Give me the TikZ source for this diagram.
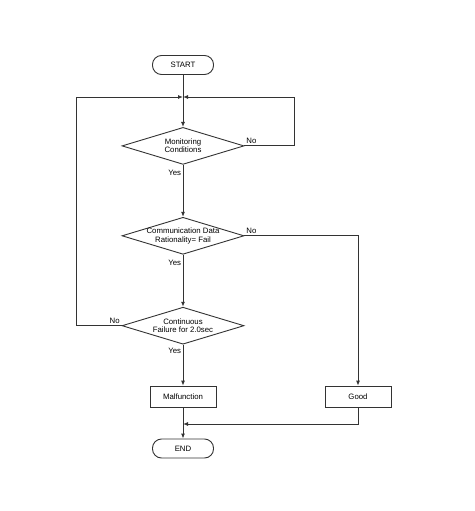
\documentclass[tikz,border=0pt]{standalone}
\usepackage{fontspec}
\setmainfont{Liberation Sans}
\usetikzlibrary{arrows.meta,positioning,shapes.geometric}

\begin{document}
\begin{tikzpicture}[
  x=1pt, y=1pt,
  font=\fontsize{7.8}{8.6}\selectfont,
  line width=0.9pt,
  draw=black!80,
  term/.style={draw, rounded corners=9pt, minimum width=61pt, minimum height=19pt, inner sep=0pt},
  proc/.style={draw, minimum width=66pt, minimum height=21pt, inner sep=0pt},
  cond/.style={draw, diamond, align=center, shape aspect=3.4, minimum width=122pt, minimum height=37pt, inner sep=-2pt},
  lbl/.style={inner sep=1.5pt},
  arrow/.style={-{Latex[length=5pt,width=4pt]}}
]
\useasboundingbox (0,0) rectangle (474,-511);

\node[term] (start) at (183,-65) {START};
\node[cond, below=52pt of start] (mon) {Monitoring\\Conditions};
\node[cond, below=52pt of mon] (rat) {Communication Data\\Rationality= Fail};
\node[cond, below=52pt of rat] (cont) {Continuous\\Failure for 2.0sec};
\node[proc, below=41pt of cont] (mal) {Malfunction};
\node[proc] (good) at (mal -| 358,0) {Good};
\node[term, below=31pt of mal] (end) {END};

\coordinate (join) at (183,-97);
\coordinate (merge) at (183,-424);

% main column
\draw[arrow] (start) -- (mon);
\draw[arrow] (mon) -- node[lbl, pos=0.15, left] {Yes} (rat);
\draw[arrow] (rat) -- node[lbl, pos=0.15, left] {Yes} (cont);
\draw[arrow] (cont) -- node[lbl, pos=0.15, left] {Yes} (mal);
\draw[arrow] (mal) -- (end);

% loops back
\draw[arrow] (mon.east) node[lbl, above right] {No} -- ++(50,0) |- (join);
\draw[arrow] (cont.west) node[lbl, above left] {No} -- ++(-45,0) |- (join);

% good branch
\draw[arrow] (rat.east) node[lbl, above right] {No} -| (good);
\draw[arrow] (good) |- (merge);
\end{tikzpicture}
\end{document}
